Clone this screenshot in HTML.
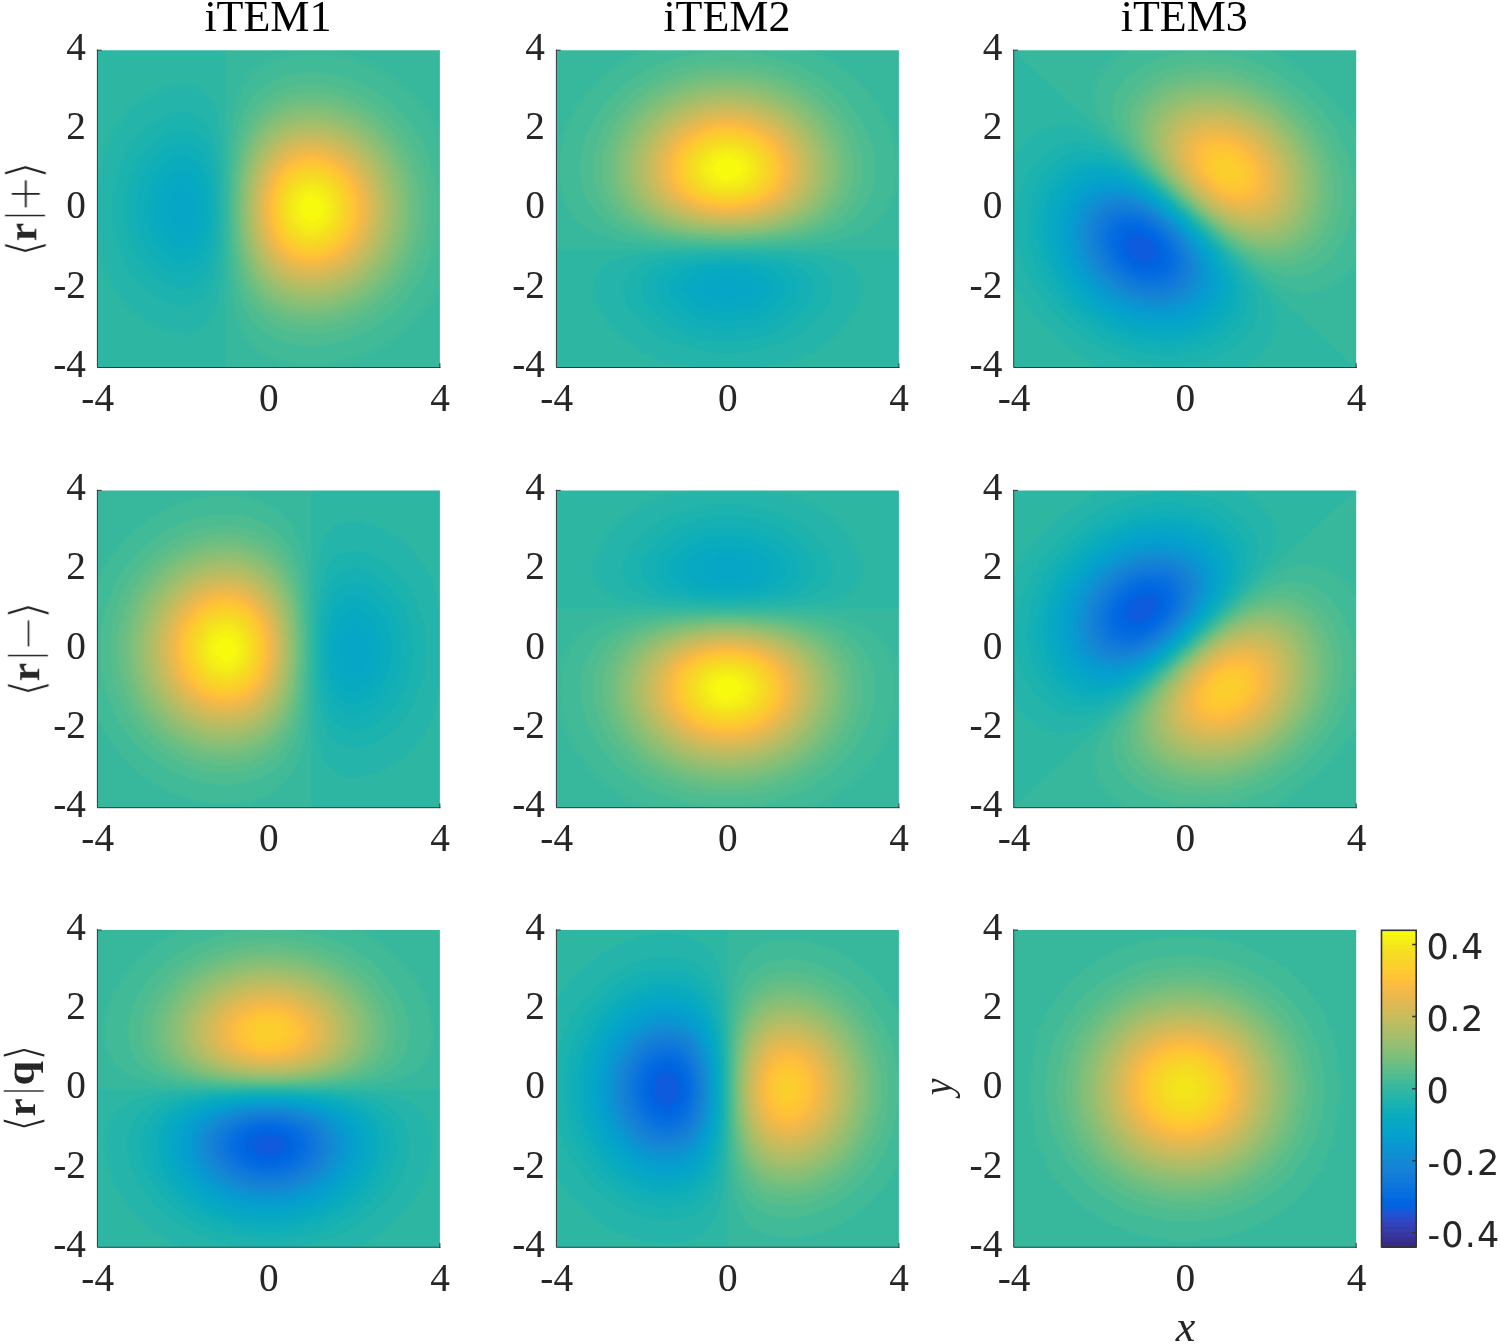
<!DOCTYPE html>
<html lang="en"><head><meta charset="utf-8"><title>iTEM modes</title>
<style>html,body{margin:0;padding:0;background:#fff}svg{display:block}</style></head>
<body><svg width="1500" height="1344" viewBox="0 0 1500 1344">
<defs><linearGradient id="ga" gradientUnits="userSpaceOnUse" x1="-6" y1="0" x2="6" y2="0"><stop offset="0" stop-color="#7e7e7e"/><stop offset=".125" stop-color="#7e7e7e"/><stop offset=".1302" stop-color="#7d7d7d"/><stop offset=".1458" stop-color="#7d7d7d"/><stop offset=".151" stop-color="#7c7c7c"/><stop offset=".1562" stop-color="#7c7c7c"/><stop offset=".1615" stop-color="#7b7b7b"/><stop offset=".1719" stop-color="#7b7b7b"/><stop offset=".1771" stop-color="#7a7a7a"/><stop offset=".1823" stop-color="#797979"/><stop offset=".1875" stop-color="#797979"/><stop offset=".1927" stop-color="#787878"/><stop offset=".1979" stop-color="#777777"/><stop offset=".2031" stop-color="#777777"/><stop offset=".2083" stop-color="#767676"/><stop offset=".2135" stop-color="#757575"/><stop offset=".2188" stop-color="#747474"/><stop offset=".224" stop-color="#737373"/><stop offset=".2292" stop-color="#727272"/><stop offset=".2344" stop-color="#717171"/><stop offset=".2396" stop-color="#707070"/><stop offset=".2448" stop-color="#6f6f6f"/><stop offset=".25" stop-color="#6e6e6e"/><stop offset=".2552" stop-color="#6d6d6d"/><stop offset=".2604" stop-color="#6c6c6c"/><stop offset=".2656" stop-color="#6b6b6b"/><stop offset=".2708" stop-color="#6a6a6a"/><stop offset=".276" stop-color="#696969"/><stop offset=".2812" stop-color="#686868"/><stop offset=".2865" stop-color="#676767"/><stop offset=".2917" stop-color="#666666"/><stop offset=".2969" stop-color="#656565"/><stop offset=".3021" stop-color="#646464"/><stop offset=".3073" stop-color="#636363"/><stop offset=".3125" stop-color="#636363"/><stop offset=".3177" stop-color="#626262"/><stop offset=".3229" stop-color="#626262"/><stop offset=".3281" stop-color="#616161"/><stop offset=".3385" stop-color="#616161"/><stop offset=".3438" stop-color="#626262"/><stop offset=".349" stop-color="#626262"/><stop offset=".3542" stop-color="#636363"/><stop offset=".3594" stop-color="#646464"/><stop offset=".3646" stop-color="#656565"/><stop offset=".3698" stop-color="#666666"/><stop offset=".375" stop-color="#686868"/><stop offset=".3802" stop-color="#6a6a6a"/><stop offset=".3854" stop-color="#6c6c6c"/><stop offset=".3906" stop-color="#6f6f6f"/><stop offset=".3958" stop-color="#727272"/><stop offset=".401" stop-color="#757575"/><stop offset=".4062" stop-color="#787878"/><stop offset=".4115" stop-color="#7c7c7c"/><stop offset=".4167" stop-color="#808080"/><stop offset=".4219" stop-color="#848484"/><stop offset=".4271" stop-color="#888888"/><stop offset=".4323" stop-color="#8d8d8d"/><stop offset=".4375" stop-color="#919191"/><stop offset=".4427" stop-color="#969696"/><stop offset=".4479" stop-color="#9b9b9b"/><stop offset=".4531" stop-color="#a1a1a1"/><stop offset=".4583" stop-color="#a6a6a6"/><stop offset=".4635" stop-color="#ababab"/><stop offset=".4688" stop-color="#b1b1b1"/><stop offset=".474" stop-color="#b6b6b6"/><stop offset=".4792" stop-color="#bcbcbc"/><stop offset=".4844" stop-color="#c1c1c1"/><stop offset=".4896" stop-color="#c7c7c7"/><stop offset=".4948" stop-color="#cccccc"/><stop offset=".5" stop-color="#d1d1d1"/><stop offset=".5052" stop-color="#d6d6d6"/><stop offset=".5104" stop-color="#dbdbdb"/><stop offset=".5156" stop-color="#e0e0e0"/><stop offset=".5208" stop-color="#e4e4e4"/><stop offset=".526" stop-color="#e8e8e8"/><stop offset=".5312" stop-color="#ececec"/><stop offset=".5365" stop-color="#f0f0f0"/><stop offset=".5417" stop-color="#f3f3f3"/><stop offset=".5469" stop-color="#f6f6f6"/><stop offset=".5521" stop-color="#f8f8f8"/><stop offset=".5573" stop-color="#fafafa"/><stop offset=".5625" stop-color="#fcfcfc"/><stop offset=".5677" stop-color="#fdfdfd"/><stop offset=".5729" stop-color="#fefefe"/><stop offset=".5781" stop-color="#ffffff"/><stop offset=".5885" stop-color="#ffffff"/><stop offset=".5938" stop-color="#fefefe"/><stop offset=".599" stop-color="#fdfdfd"/><stop offset=".6042" stop-color="#fcfcfc"/><stop offset=".6094" stop-color="#fbfbfb"/><stop offset=".6146" stop-color="#f9f9f9"/><stop offset=".6198" stop-color="#f7f7f7"/><stop offset=".625" stop-color="#f4f4f4"/><stop offset=".6302" stop-color="#f1f1f1"/><stop offset=".6354" stop-color="#efefef"/><stop offset=".6406" stop-color="#ebebeb"/><stop offset=".6458" stop-color="#e8e8e8"/><stop offset=".651" stop-color="#e5e5e5"/><stop offset=".6562" stop-color="#e1e1e1"/><stop offset=".6615" stop-color="#dedede"/><stop offset=".6667" stop-color="#dadada"/><stop offset=".6719" stop-color="#d6d6d6"/><stop offset=".6771" stop-color="#d2d2d2"/><stop offset=".6823" stop-color="#cecece"/><stop offset=".6875" stop-color="#cbcbcb"/><stop offset=".6927" stop-color="#c7c7c7"/><stop offset=".6979" stop-color="#c3c3c3"/><stop offset=".7031" stop-color="#bfbfbf"/><stop offset=".7083" stop-color="#bcbcbc"/><stop offset=".7135" stop-color="#b8b8b8"/><stop offset=".7188" stop-color="#b4b4b4"/><stop offset=".724" stop-color="#b1b1b1"/><stop offset=".7292" stop-color="#aeaeae"/><stop offset=".7344" stop-color="#ababab"/><stop offset=".7396" stop-color="#a8a8a8"/><stop offset=".7448" stop-color="#a5a5a5"/><stop offset=".75" stop-color="#a2a2a2"/><stop offset=".7552" stop-color="#9f9f9f"/><stop offset=".7604" stop-color="#9d9d9d"/><stop offset=".7656" stop-color="#9b9b9b"/><stop offset=".7708" stop-color="#989898"/><stop offset=".776" stop-color="#969696"/><stop offset=".7812" stop-color="#949494"/><stop offset=".7865" stop-color="#929292"/><stop offset=".7917" stop-color="#919191"/><stop offset=".7969" stop-color="#8f8f8f"/><stop offset=".8021" stop-color="#8e8e8e"/><stop offset=".8073" stop-color="#8c8c8c"/><stop offset=".8125" stop-color="#8b8b8b"/><stop offset=".8177" stop-color="#8a8a8a"/><stop offset=".8229" stop-color="#898989"/><stop offset=".8281" stop-color="#888888"/><stop offset=".8333" stop-color="#878787"/><stop offset=".8385" stop-color="#868686"/><stop offset=".8438" stop-color="#858585"/><stop offset=".849" stop-color="#858585"/><stop offset=".8542" stop-color="#848484"/><stop offset=".8594" stop-color="#848484"/><stop offset=".8646" stop-color="#838383"/><stop offset=".8698" stop-color="#838383"/><stop offset=".875" stop-color="#828282"/><stop offset=".8854" stop-color="#828282"/><stop offset=".8906" stop-color="#818181"/><stop offset="1" stop-color="#818181"/></linearGradient>
<linearGradient id="gb" gradientUnits="userSpaceOnUse" x1="-6" y1="0" x2="6" y2="0"><stop offset="0" stop-color="#7e7e7e"/><stop offset=".1042" stop-color="#7e7e7e"/><stop offset=".1094" stop-color="#7d7d7d"/><stop offset=".1198" stop-color="#7d7d7d"/><stop offset=".125" stop-color="#7c7c7c"/><stop offset=".1302" stop-color="#7c7c7c"/><stop offset=".1354" stop-color="#7b7b7b"/><stop offset=".1406" stop-color="#7b7b7b"/><stop offset=".1458" stop-color="#7a7a7a"/><stop offset=".151" stop-color="#797979"/><stop offset=".1562" stop-color="#797979"/><stop offset=".1615" stop-color="#787878"/><stop offset=".1667" stop-color="#777777"/><stop offset=".1719" stop-color="#767676"/><stop offset=".1771" stop-color="#757575"/><stop offset=".1823" stop-color="#747474"/><stop offset=".1875" stop-color="#737373"/><stop offset=".1927" stop-color="#717171"/><stop offset=".1979" stop-color="#707070"/><stop offset=".2031" stop-color="#6e6e6e"/><stop offset=".2083" stop-color="#6d6d6d"/><stop offset=".2135" stop-color="#6b6b6b"/><stop offset=".2188" stop-color="#696969"/><stop offset=".224" stop-color="#676767"/><stop offset=".2292" stop-color="#656565"/><stop offset=".2344" stop-color="#626262"/><stop offset=".2396" stop-color="#606060"/><stop offset=".2448" stop-color="#5e5e5e"/><stop offset=".25" stop-color="#5b5b5b"/><stop offset=".2552" stop-color="#585858"/><stop offset=".2604" stop-color="#555555"/><stop offset=".2656" stop-color="#525252"/><stop offset=".2708" stop-color="#4f4f4f"/><stop offset=".276" stop-color="#4c4c4c"/><stop offset=".2812" stop-color="#494949"/><stop offset=".2865" stop-color="#464646"/><stop offset=".2917" stop-color="#434343"/><stop offset=".2969" stop-color="#404040"/><stop offset=".3021" stop-color="#3c3c3c"/><stop offset=".3073" stop-color="#393939"/><stop offset=".3125" stop-color="#363636"/><stop offset=".3177" stop-color="#333333"/><stop offset=".3229" stop-color="#303030"/><stop offset=".3281" stop-color="#2d2d2d"/><stop offset=".3333" stop-color="#2a2a2a"/><stop offset=".3385" stop-color="#282828"/><stop offset=".3438" stop-color="#252525"/><stop offset=".349" stop-color="#232323"/><stop offset=".3542" stop-color="#212121"/><stop offset=".3594" stop-color="#202020"/><stop offset=".3646" stop-color="#1e1e1e"/><stop offset=".3698" stop-color="#1d1d1d"/><stop offset=".375" stop-color="#1d1d1d"/><stop offset=".3802" stop-color="#1c1c1c"/><stop offset=".3854" stop-color="#1c1c1c"/><stop offset=".3906" stop-color="#1d1d1d"/><stop offset=".3958" stop-color="#1e1e1e"/><stop offset=".401" stop-color="#1f1f1f"/><stop offset=".4062" stop-color="#212121"/><stop offset=".4115" stop-color="#232323"/><stop offset=".4167" stop-color="#252525"/><stop offset=".4219" stop-color="#282828"/><stop offset=".4271" stop-color="#2c2c2c"/><stop offset=".4323" stop-color="#303030"/><stop offset=".4375" stop-color="#343434"/><stop offset=".4427" stop-color="#393939"/><stop offset=".4479" stop-color="#3e3e3e"/><stop offset=".4531" stop-color="#434343"/><stop offset=".4583" stop-color="#494949"/><stop offset=".4635" stop-color="#4f4f4f"/><stop offset=".4688" stop-color="#565656"/><stop offset=".474" stop-color="#5c5c5c"/><stop offset=".4792" stop-color="#636363"/><stop offset=".4844" stop-color="#6a6a6a"/><stop offset=".4896" stop-color="#717171"/><stop offset=".4948" stop-color="#787878"/><stop offset=".5" stop-color="#808080"/><stop offset=".5052" stop-color="#878787"/><stop offset=".5104" stop-color="#8e8e8e"/><stop offset=".5156" stop-color="#959595"/><stop offset=".5208" stop-color="#9c9c9c"/><stop offset=".526" stop-color="#a3a3a3"/><stop offset=".5312" stop-color="#a9a9a9"/><stop offset=".5365" stop-color="#b0b0b0"/><stop offset=".5417" stop-color="#b6b6b6"/><stop offset=".5469" stop-color="#bcbcbc"/><stop offset=".5521" stop-color="#c1c1c1"/><stop offset=".5573" stop-color="#c6c6c6"/><stop offset=".5625" stop-color="#cbcbcb"/><stop offset=".5677" stop-color="#cfcfcf"/><stop offset=".5729" stop-color="#d3d3d3"/><stop offset=".5781" stop-color="#d7d7d7"/><stop offset=".5833" stop-color="#dadada"/><stop offset=".5885" stop-color="#dcdcdc"/><stop offset=".5938" stop-color="#dedede"/><stop offset=".599" stop-color="#e0e0e0"/><stop offset=".6042" stop-color="#e1e1e1"/><stop offset=".6094" stop-color="#e2e2e2"/><stop offset=".6146" stop-color="#e3e3e3"/><stop offset=".6198" stop-color="#e3e3e3"/><stop offset=".625" stop-color="#e2e2e2"/><stop offset=".6302" stop-color="#e2e2e2"/><stop offset=".6354" stop-color="#e1e1e1"/><stop offset=".6406" stop-color="#dfdfdf"/><stop offset=".6458" stop-color="#dedede"/><stop offset=".651" stop-color="#dcdcdc"/><stop offset=".6562" stop-color="#dadada"/><stop offset=".6615" stop-color="#d7d7d7"/><stop offset=".6667" stop-color="#d5d5d5"/><stop offset=".6719" stop-color="#d2d2d2"/><stop offset=".6771" stop-color="#cfcfcf"/><stop offset=".6823" stop-color="#cccccc"/><stop offset=".6875" stop-color="#c9c9c9"/><stop offset=".6927" stop-color="#c6c6c6"/><stop offset=".6979" stop-color="#c3c3c3"/><stop offset=".7031" stop-color="#bfbfbf"/><stop offset=".7083" stop-color="#bcbcbc"/><stop offset=".7135" stop-color="#b9b9b9"/><stop offset=".7188" stop-color="#b6b6b6"/><stop offset=".724" stop-color="#b3b3b3"/><stop offset=".7292" stop-color="#b0b0b0"/><stop offset=".7344" stop-color="#adadad"/><stop offset=".7396" stop-color="#aaaaaa"/><stop offset=".7448" stop-color="#a7a7a7"/><stop offset=".75" stop-color="#a4a4a4"/><stop offset=".7552" stop-color="#a1a1a1"/><stop offset=".7604" stop-color="#9f9f9f"/><stop offset=".7656" stop-color="#9d9d9d"/><stop offset=".7708" stop-color="#9a9a9a"/><stop offset=".776" stop-color="#989898"/><stop offset=".7812" stop-color="#969696"/><stop offset=".7865" stop-color="#949494"/><stop offset=".7917" stop-color="#929292"/><stop offset=".7969" stop-color="#919191"/><stop offset=".8021" stop-color="#8f8f8f"/><stop offset=".8073" stop-color="#8e8e8e"/><stop offset=".8125" stop-color="#8c8c8c"/><stop offset=".8177" stop-color="#8b8b8b"/><stop offset=".8229" stop-color="#8a8a8a"/><stop offset=".8281" stop-color="#898989"/><stop offset=".8333" stop-color="#888888"/><stop offset=".8385" stop-color="#878787"/><stop offset=".8438" stop-color="#868686"/><stop offset=".849" stop-color="#868686"/><stop offset=".8542" stop-color="#858585"/><stop offset=".8594" stop-color="#848484"/><stop offset=".8646" stop-color="#848484"/><stop offset=".8698" stop-color="#838383"/><stop offset=".875" stop-color="#838383"/><stop offset=".8802" stop-color="#828282"/><stop offset=".8906" stop-color="#828282"/><stop offset=".8958" stop-color="#818181"/><stop offset="1" stop-color="#818181"/></linearGradient>
<linearGradient id="gc" gradientUnits="userSpaceOnUse" x1="-6" y1="0" x2="6" y2="0"><stop offset="0" stop-color="#818181"/><stop offset=".1615" stop-color="#818181"/><stop offset=".1667" stop-color="#828282"/><stop offset=".1771" stop-color="#828282"/><stop offset=".1823" stop-color="#838383"/><stop offset=".1927" stop-color="#838383"/><stop offset=".1979" stop-color="#848484"/><stop offset=".2031" stop-color="#848484"/><stop offset=".2083" stop-color="#858585"/><stop offset=".2135" stop-color="#868686"/><stop offset=".2188" stop-color="#868686"/><stop offset=".224" stop-color="#878787"/><stop offset=".2292" stop-color="#888888"/><stop offset=".2344" stop-color="#898989"/><stop offset=".2396" stop-color="#8a8a8a"/><stop offset=".2448" stop-color="#8b8b8b"/><stop offset=".25" stop-color="#8c8c8c"/><stop offset=".2552" stop-color="#8d8d8d"/><stop offset=".2604" stop-color="#8e8e8e"/><stop offset=".2656" stop-color="#909090"/><stop offset=".2708" stop-color="#919191"/><stop offset=".276" stop-color="#939393"/><stop offset=".2812" stop-color="#949494"/><stop offset=".2865" stop-color="#969696"/><stop offset=".2917" stop-color="#989898"/><stop offset=".2969" stop-color="#9a9a9a"/><stop offset=".3021" stop-color="#9c9c9c"/><stop offset=".3073" stop-color="#9e9e9e"/><stop offset=".3125" stop-color="#a0a0a0"/><stop offset=".3177" stop-color="#a2a2a2"/><stop offset=".3229" stop-color="#a5a5a5"/><stop offset=".3281" stop-color="#a7a7a7"/><stop offset=".3333" stop-color="#aaaaaa"/><stop offset=".3385" stop-color="#adadad"/><stop offset=".3438" stop-color="#b0b0b0"/><stop offset=".349" stop-color="#b2b2b2"/><stop offset=".3542" stop-color="#b5b5b5"/><stop offset=".3594" stop-color="#b8b8b8"/><stop offset=".3646" stop-color="#bbbbbb"/><stop offset=".3698" stop-color="#bebebe"/><stop offset=".375" stop-color="#c1c1c1"/><stop offset=".3802" stop-color="#c5c5c5"/><stop offset=".3854" stop-color="#c8c8c8"/><stop offset=".3906" stop-color="#cbcbcb"/><stop offset=".3958" stop-color="#cecece"/><stop offset=".401" stop-color="#d1d1d1"/><stop offset=".4062" stop-color="#d4d4d4"/><stop offset=".4115" stop-color="#d7d7d7"/><stop offset=".4167" stop-color="#dadada"/><stop offset=".4219" stop-color="#dcdcdc"/><stop offset=".4271" stop-color="#dfdfdf"/><stop offset=".4323" stop-color="#e2e2e2"/><stop offset=".4375" stop-color="#e4e4e4"/><stop offset=".4427" stop-color="#e6e6e6"/><stop offset=".4479" stop-color="#e8e8e8"/><stop offset=".4531" stop-color="#eaeaea"/><stop offset=".4583" stop-color="#ececec"/><stop offset=".4635" stop-color="#eeeeee"/><stop offset=".4688" stop-color="#efefef"/><stop offset=".474" stop-color="#f0f0f0"/><stop offset=".4792" stop-color="#f1f1f1"/><stop offset=".4844" stop-color="#f2f2f2"/><stop offset=".4896" stop-color="#f3f3f3"/><stop offset=".5104" stop-color="#f3f3f3"/><stop offset=".5156" stop-color="#f2f2f2"/><stop offset=".5208" stop-color="#f1f1f1"/><stop offset=".526" stop-color="#f0f0f0"/><stop offset=".5312" stop-color="#efefef"/><stop offset=".5365" stop-color="#eeeeee"/><stop offset=".5417" stop-color="#ececec"/><stop offset=".5469" stop-color="#eaeaea"/><stop offset=".5521" stop-color="#e8e8e8"/><stop offset=".5573" stop-color="#e6e6e6"/><stop offset=".5625" stop-color="#e4e4e4"/><stop offset=".5677" stop-color="#e2e2e2"/><stop offset=".5729" stop-color="#dfdfdf"/><stop offset=".5781" stop-color="#dcdcdc"/><stop offset=".5833" stop-color="#dadada"/><stop offset=".5885" stop-color="#d7d7d7"/><stop offset=".5938" stop-color="#d4d4d4"/><stop offset=".599" stop-color="#d1d1d1"/><stop offset=".6042" stop-color="#cecece"/><stop offset=".6094" stop-color="#cbcbcb"/><stop offset=".6146" stop-color="#c8c8c8"/><stop offset=".6198" stop-color="#c5c5c5"/><stop offset=".625" stop-color="#c1c1c1"/><stop offset=".6302" stop-color="#bebebe"/><stop offset=".6354" stop-color="#bbbbbb"/><stop offset=".6406" stop-color="#b8b8b8"/><stop offset=".6458" stop-color="#b5b5b5"/><stop offset=".651" stop-color="#b2b2b2"/><stop offset=".6562" stop-color="#b0b0b0"/><stop offset=".6615" stop-color="#adadad"/><stop offset=".6667" stop-color="#aaaaaa"/><stop offset=".6719" stop-color="#a7a7a7"/><stop offset=".6771" stop-color="#a5a5a5"/><stop offset=".6823" stop-color="#a2a2a2"/><stop offset=".6875" stop-color="#a0a0a0"/><stop offset=".6927" stop-color="#9e9e9e"/><stop offset=".6979" stop-color="#9c9c9c"/><stop offset=".7031" stop-color="#9a9a9a"/><stop offset=".7083" stop-color="#989898"/><stop offset=".7135" stop-color="#969696"/><stop offset=".7188" stop-color="#949494"/><stop offset=".724" stop-color="#939393"/><stop offset=".7292" stop-color="#919191"/><stop offset=".7344" stop-color="#909090"/><stop offset=".7396" stop-color="#8e8e8e"/><stop offset=".7448" stop-color="#8d8d8d"/><stop offset=".75" stop-color="#8c8c8c"/><stop offset=".7552" stop-color="#8b8b8b"/><stop offset=".7604" stop-color="#8a8a8a"/><stop offset=".7656" stop-color="#898989"/><stop offset=".7708" stop-color="#888888"/><stop offset=".776" stop-color="#878787"/><stop offset=".7812" stop-color="#868686"/><stop offset=".7865" stop-color="#868686"/><stop offset=".7917" stop-color="#858585"/><stop offset=".7969" stop-color="#848484"/><stop offset=".8021" stop-color="#848484"/><stop offset=".8073" stop-color="#838383"/><stop offset=".8177" stop-color="#838383"/><stop offset=".8229" stop-color="#828282"/><stop offset=".8333" stop-color="#828282"/><stop offset=".8385" stop-color="#818181"/><stop offset="1" stop-color="#818181"/></linearGradient>
<linearGradient id="cn" gradientUnits="userSpaceOnUse" x1="0" y1="-6" x2="0" y2="6"><stop offset="0" stop-color="#7e7e7e" stop-opacity=".9999"/><stop offset=".0052" stop-color="#7e7e7e" stop-opacity=".9999"/><stop offset=".0104" stop-color="#7e7e7e" stop-opacity=".9998"/><stop offset=".0156" stop-color="#7e7e7e" stop-opacity=".9998"/><stop offset=".0208" stop-color="#7e7e7e" stop-opacity=".9997"/><stop offset=".026" stop-color="#7e7e7e" stop-opacity=".9997"/><stop offset=".0312" stop-color="#7e7e7e" stop-opacity=".9996"/><stop offset=".0365" stop-color="#7e7e7e" stop-opacity=".9996"/><stop offset=".0417" stop-color="#7e7e7e" stop-opacity=".9995"/><stop offset=".0469" stop-color="#7e7e7e" stop-opacity=".9994"/><stop offset=".0521" stop-color="#7e7e7e" stop-opacity=".9993"/><stop offset=".0573" stop-color="#7e7e7e" stop-opacity=".9991"/><stop offset=".0625" stop-color="#7e7e7e" stop-opacity=".999"/><stop offset=".0677" stop-color="#7e7e7e" stop-opacity=".9988"/><stop offset=".0729" stop-color="#7e7e7e" stop-opacity=".9986"/><stop offset=".0781" stop-color="#7e7e7e" stop-opacity=".9984"/><stop offset=".0833" stop-color="#7e7e7e" stop-opacity=".9981"/><stop offset=".0885" stop-color="#7e7e7e" stop-opacity=".9977"/><stop offset=".0938" stop-color="#7e7e7e" stop-opacity=".9974"/><stop offset=".099" stop-color="#7e7e7e" stop-opacity=".9969"/><stop offset=".1042" stop-color="#7e7e7e" stop-opacity=".9964"/><stop offset=".1094" stop-color="#7e7e7e" stop-opacity=".9959"/><stop offset=".1146" stop-color="#7e7e7e" stop-opacity=".9952"/><stop offset=".1198" stop-color="#7e7e7e" stop-opacity=".9945"/><stop offset=".125" stop-color="#7e7e7e" stop-opacity=".9937"/><stop offset=".1302" stop-color="#7e7e7e" stop-opacity=".9927"/><stop offset=".1354" stop-color="#7e7e7e" stop-opacity=".9916"/><stop offset=".1406" stop-color="#7e7e7e" stop-opacity=".9904"/><stop offset=".1458" stop-color="#7e7e7e" stop-opacity=".9891"/><stop offset=".151" stop-color="#7e7e7e" stop-opacity=".9875"/><stop offset=".1562" stop-color="#7e7e7e" stop-opacity=".9858"/><stop offset=".1615" stop-color="#7e7e7e" stop-opacity=".9839"/><stop offset=".1667" stop-color="#7e7e7e" stop-opacity=".9817"/><stop offset=".1719" stop-color="#7e7e7e" stop-opacity=".9793"/><stop offset=".1771" stop-color="#7e7e7e" stop-opacity=".9766"/><stop offset=".1823" stop-color="#7e7e7e" stop-opacity=".9736"/><stop offset=".1875" stop-color="#7e7e7e" stop-opacity=".9703"/><stop offset=".1927" stop-color="#7e7e7e" stop-opacity=".9666"/><stop offset=".1979" stop-color="#7e7e7e" stop-opacity=".9626"/><stop offset=".2031" stop-color="#7e7e7e" stop-opacity=".9581"/><stop offset=".2083" stop-color="#7e7e7e" stop-opacity=".9532"/><stop offset=".2135" stop-color="#7e7e7e" stop-opacity=".9479"/><stop offset=".2188" stop-color="#7e7e7e" stop-opacity=".942"/><stop offset=".224" stop-color="#7e7e7e" stop-opacity=".9356"/><stop offset=".2292" stop-color="#7e7e7e" stop-opacity=".9287"/><stop offset=".2344" stop-color="#7e7e7e" stop-opacity=".9211"/><stop offset=".2396" stop-color="#7e7e7e" stop-opacity=".913"/><stop offset=".2448" stop-color="#7e7e7e" stop-opacity=".9041"/><stop offset=".25" stop-color="#7e7e7e" stop-opacity=".8946"/><stop offset=".2552" stop-color="#7e7e7e" stop-opacity=".8844"/><stop offset=".2604" stop-color="#7e7e7e" stop-opacity=".8734"/><stop offset=".2656" stop-color="#7e7e7e" stop-opacity=".8616"/><stop offset=".2708" stop-color="#7e7e7e" stop-opacity=".849"/><stop offset=".276" stop-color="#7e7e7e" stop-opacity=".8356"/><stop offset=".2812" stop-color="#7e7e7e" stop-opacity=".8214"/><stop offset=".2865" stop-color="#7e7e7e" stop-opacity=".8063"/><stop offset=".2917" stop-color="#7e7e7e" stop-opacity=".7904"/><stop offset=".2969" stop-color="#7e7e7e" stop-opacity=".7736"/><stop offset=".3021" stop-color="#7e7e7e" stop-opacity=".7559"/><stop offset=".3073" stop-color="#7e7e7e" stop-opacity=".7373"/><stop offset=".3125" stop-color="#7e7e7e" stop-opacity=".7179"/><stop offset=".3177" stop-color="#7e7e7e" stop-opacity=".6977"/><stop offset=".3229" stop-color="#7e7e7e" stop-opacity=".6766"/><stop offset=".3281" stop-color="#7e7e7e" stop-opacity=".6547"/><stop offset=".3333" stop-color="#7e7e7e" stop-opacity=".6321"/><stop offset=".3385" stop-color="#7e7e7e" stop-opacity=".6088"/><stop offset=".3438" stop-color="#7e7e7e" stop-opacity=".5848"/><stop offset=".349" stop-color="#7e7e7e" stop-opacity=".5601"/><stop offset=".3542" stop-color="#7e7e7e" stop-opacity=".535"/><stop offset=".3594" stop-color="#7e7e7e" stop-opacity=".5093"/><stop offset=".3646" stop-color="#7e7e7e" stop-opacity=".4832"/><stop offset=".3698" stop-color="#7e7e7e" stop-opacity=".4568"/><stop offset=".375" stop-color="#7e7e7e" stop-opacity=".4302"/><stop offset=".3802" stop-color="#7e7e7e" stop-opacity=".4035"/><stop offset=".3854" stop-color="#7e7e7e" stop-opacity=".3767"/><stop offset=".3906" stop-color="#7e7e7e" stop-opacity=".3499"/><stop offset=".3958" stop-color="#7e7e7e" stop-opacity=".3234"/><stop offset=".401" stop-color="#7e7e7e" stop-opacity=".2971"/><stop offset=".4062" stop-color="#7e7e7e" stop-opacity=".2712"/><stop offset=".4115" stop-color="#7e7e7e" stop-opacity=".2459"/><stop offset=".4167" stop-color="#7e7e7e" stop-opacity=".2212"/><stop offset=".4219" stop-color="#7e7e7e" stop-opacity=".1973"/><stop offset=".4271" stop-color="#7e7e7e" stop-opacity=".1742"/><stop offset=".4323" stop-color="#7e7e7e" stop-opacity=".1521"/><stop offset=".4375" stop-color="#7e7e7e" stop-opacity=".1312"/><stop offset=".4427" stop-color="#7e7e7e" stop-opacity=".1114"/><stop offset=".4479" stop-color="#7e7e7e" stop-opacity=".093"/><stop offset=".4531" stop-color="#7e7e7e" stop-opacity=".0761"/><stop offset=".4583" stop-color="#7e7e7e" stop-opacity=".0606"/><stop offset=".4635" stop-color="#7e7e7e" stop-opacity=".0467"/><stop offset=".4688" stop-color="#7e7e7e" stop-opacity=".0345"/><stop offset=".474" stop-color="#7e7e7e" stop-opacity=".0241"/><stop offset=".4792" stop-color="#7e7e7e" stop-opacity=".0155"/><stop offset=".4844" stop-color="#7e7e7e" stop-opacity=".0088"/><stop offset=".4896" stop-color="#7e7e7e" stop-opacity=".0039"/><stop offset=".4948" stop-color="#7e7e7e" stop-opacity=".001"/><stop offset=".5" stop-color="#7e7e7e" stop-opacity="0"/><stop offset=".5052" stop-color="#7e7e7e" stop-opacity=".001"/><stop offset=".5104" stop-color="#7e7e7e" stop-opacity=".0039"/><stop offset=".5156" stop-color="#7e7e7e" stop-opacity=".0088"/><stop offset=".5208" stop-color="#7e7e7e" stop-opacity=".0155"/><stop offset=".526" stop-color="#7e7e7e" stop-opacity=".0241"/><stop offset=".5312" stop-color="#7e7e7e" stop-opacity=".0345"/><stop offset=".5365" stop-color="#7e7e7e" stop-opacity=".0467"/><stop offset=".5417" stop-color="#7e7e7e" stop-opacity=".0606"/><stop offset=".5469" stop-color="#7e7e7e" stop-opacity=".0761"/><stop offset=".5521" stop-color="#7e7e7e" stop-opacity=".093"/><stop offset=".5573" stop-color="#7e7e7e" stop-opacity=".1114"/><stop offset=".5625" stop-color="#7e7e7e" stop-opacity=".1312"/><stop offset=".5677" stop-color="#7e7e7e" stop-opacity=".1521"/><stop offset=".5729" stop-color="#7e7e7e" stop-opacity=".1742"/><stop offset=".5781" stop-color="#7e7e7e" stop-opacity=".1973"/><stop offset=".5833" stop-color="#7e7e7e" stop-opacity=".2212"/><stop offset=".5885" stop-color="#7e7e7e" stop-opacity=".2459"/><stop offset=".5938" stop-color="#7e7e7e" stop-opacity=".2712"/><stop offset=".599" stop-color="#7e7e7e" stop-opacity=".2971"/><stop offset=".6042" stop-color="#7e7e7e" stop-opacity=".3234"/><stop offset=".6094" stop-color="#7e7e7e" stop-opacity=".3499"/><stop offset=".6146" stop-color="#7e7e7e" stop-opacity=".3767"/><stop offset=".6198" stop-color="#7e7e7e" stop-opacity=".4035"/><stop offset=".625" stop-color="#7e7e7e" stop-opacity=".4302"/><stop offset=".6302" stop-color="#7e7e7e" stop-opacity=".4568"/><stop offset=".6354" stop-color="#7e7e7e" stop-opacity=".4832"/><stop offset=".6406" stop-color="#7e7e7e" stop-opacity=".5093"/><stop offset=".6458" stop-color="#7e7e7e" stop-opacity=".535"/><stop offset=".651" stop-color="#7e7e7e" stop-opacity=".5601"/><stop offset=".6562" stop-color="#7e7e7e" stop-opacity=".5848"/><stop offset=".6615" stop-color="#7e7e7e" stop-opacity=".6088"/><stop offset=".6667" stop-color="#7e7e7e" stop-opacity=".6321"/><stop offset=".6719" stop-color="#7e7e7e" stop-opacity=".6547"/><stop offset=".6771" stop-color="#7e7e7e" stop-opacity=".6766"/><stop offset=".6823" stop-color="#7e7e7e" stop-opacity=".6977"/><stop offset=".6875" stop-color="#7e7e7e" stop-opacity=".7179"/><stop offset=".6927" stop-color="#7e7e7e" stop-opacity=".7373"/><stop offset=".6979" stop-color="#7e7e7e" stop-opacity=".7559"/><stop offset=".7031" stop-color="#7e7e7e" stop-opacity=".7736"/><stop offset=".7083" stop-color="#7e7e7e" stop-opacity=".7904"/><stop offset=".7135" stop-color="#7e7e7e" stop-opacity=".8063"/><stop offset=".7188" stop-color="#7e7e7e" stop-opacity=".8214"/><stop offset=".724" stop-color="#7e7e7e" stop-opacity=".8356"/><stop offset=".7292" stop-color="#7e7e7e" stop-opacity=".849"/><stop offset=".7344" stop-color="#7e7e7e" stop-opacity=".8616"/><stop offset=".7396" stop-color="#7e7e7e" stop-opacity=".8734"/><stop offset=".7448" stop-color="#7e7e7e" stop-opacity=".8844"/><stop offset=".75" stop-color="#7e7e7e" stop-opacity=".8946"/><stop offset=".7552" stop-color="#7e7e7e" stop-opacity=".9041"/><stop offset=".7604" stop-color="#7e7e7e" stop-opacity=".913"/><stop offset=".7656" stop-color="#7e7e7e" stop-opacity=".9211"/><stop offset=".7708" stop-color="#7e7e7e" stop-opacity=".9287"/><stop offset=".776" stop-color="#7e7e7e" stop-opacity=".9356"/><stop offset=".7812" stop-color="#7e7e7e" stop-opacity=".942"/><stop offset=".7865" stop-color="#7e7e7e" stop-opacity=".9479"/><stop offset=".7917" stop-color="#7e7e7e" stop-opacity=".9532"/><stop offset=".7969" stop-color="#7e7e7e" stop-opacity=".9581"/><stop offset=".8021" stop-color="#7e7e7e" stop-opacity=".9626"/><stop offset=".8073" stop-color="#7e7e7e" stop-opacity=".9666"/><stop offset=".8125" stop-color="#7e7e7e" stop-opacity=".9703"/><stop offset=".8177" stop-color="#7e7e7e" stop-opacity=".9736"/><stop offset=".8229" stop-color="#7e7e7e" stop-opacity=".9766"/><stop offset=".8281" stop-color="#7e7e7e" stop-opacity=".9793"/><stop offset=".8333" stop-color="#7e7e7e" stop-opacity=".9817"/><stop offset=".8385" stop-color="#7e7e7e" stop-opacity=".9839"/><stop offset=".8438" stop-color="#7e7e7e" stop-opacity=".9858"/><stop offset=".849" stop-color="#7e7e7e" stop-opacity=".9875"/><stop offset=".8542" stop-color="#7e7e7e" stop-opacity=".9891"/><stop offset=".8594" stop-color="#7e7e7e" stop-opacity=".9904"/><stop offset=".8646" stop-color="#7e7e7e" stop-opacity=".9916"/><stop offset=".8698" stop-color="#7e7e7e" stop-opacity=".9927"/><stop offset=".875" stop-color="#7e7e7e" stop-opacity=".9937"/><stop offset=".8802" stop-color="#7e7e7e" stop-opacity=".9945"/><stop offset=".8854" stop-color="#7e7e7e" stop-opacity=".9952"/><stop offset=".8906" stop-color="#7e7e7e" stop-opacity=".9959"/><stop offset=".8958" stop-color="#7e7e7e" stop-opacity=".9964"/><stop offset=".901" stop-color="#7e7e7e" stop-opacity=".9969"/><stop offset=".9062" stop-color="#7e7e7e" stop-opacity=".9974"/><stop offset=".9115" stop-color="#7e7e7e" stop-opacity=".9977"/><stop offset=".9167" stop-color="#7e7e7e" stop-opacity=".9981"/><stop offset=".9219" stop-color="#7e7e7e" stop-opacity=".9984"/><stop offset=".9271" stop-color="#7e7e7e" stop-opacity=".9986"/><stop offset=".9323" stop-color="#7e7e7e" stop-opacity=".9988"/><stop offset=".9375" stop-color="#7e7e7e" stop-opacity=".999"/><stop offset=".9427" stop-color="#7e7e7e" stop-opacity=".9991"/><stop offset=".9479" stop-color="#7e7e7e" stop-opacity=".9993"/><stop offset=".9531" stop-color="#7e7e7e" stop-opacity=".9994"/><stop offset=".9583" stop-color="#7e7e7e" stop-opacity=".9995"/><stop offset=".9635" stop-color="#7e7e7e" stop-opacity=".9996"/><stop offset=".9688" stop-color="#7e7e7e" stop-opacity=".9996"/><stop offset=".974" stop-color="#7e7e7e" stop-opacity=".9997"/><stop offset=".9792" stop-color="#7e7e7e" stop-opacity=".9997"/><stop offset=".9844" stop-color="#7e7e7e" stop-opacity=".9998"/><stop offset=".9896" stop-color="#7e7e7e" stop-opacity=".9998"/><stop offset=".9948" stop-color="#7e7e7e" stop-opacity=".9999"/><stop offset="1" stop-color="#7e7e7e" stop-opacity=".9999"/></linearGradient>
<linearGradient id="cp" gradientUnits="userSpaceOnUse" x1="0" y1="-6" x2="0" y2="6"><stop offset="0" stop-color="#818181" stop-opacity=".9999"/><stop offset=".0052" stop-color="#818181" stop-opacity=".9999"/><stop offset=".0104" stop-color="#818181" stop-opacity=".9998"/><stop offset=".0156" stop-color="#818181" stop-opacity=".9998"/><stop offset=".0208" stop-color="#818181" stop-opacity=".9997"/><stop offset=".026" stop-color="#818181" stop-opacity=".9997"/><stop offset=".0312" stop-color="#818181" stop-opacity=".9996"/><stop offset=".0365" stop-color="#818181" stop-opacity=".9996"/><stop offset=".0417" stop-color="#818181" stop-opacity=".9995"/><stop offset=".0469" stop-color="#818181" stop-opacity=".9994"/><stop offset=".0521" stop-color="#818181" stop-opacity=".9993"/><stop offset=".0573" stop-color="#818181" stop-opacity=".9991"/><stop offset=".0625" stop-color="#818181" stop-opacity=".999"/><stop offset=".0677" stop-color="#818181" stop-opacity=".9988"/><stop offset=".0729" stop-color="#818181" stop-opacity=".9986"/><stop offset=".0781" stop-color="#818181" stop-opacity=".9984"/><stop offset=".0833" stop-color="#818181" stop-opacity=".9981"/><stop offset=".0885" stop-color="#818181" stop-opacity=".9977"/><stop offset=".0938" stop-color="#818181" stop-opacity=".9974"/><stop offset=".099" stop-color="#818181" stop-opacity=".9969"/><stop offset=".1042" stop-color="#818181" stop-opacity=".9964"/><stop offset=".1094" stop-color="#818181" stop-opacity=".9959"/><stop offset=".1146" stop-color="#818181" stop-opacity=".9952"/><stop offset=".1198" stop-color="#818181" stop-opacity=".9945"/><stop offset=".125" stop-color="#818181" stop-opacity=".9937"/><stop offset=".1302" stop-color="#818181" stop-opacity=".9927"/><stop offset=".1354" stop-color="#818181" stop-opacity=".9916"/><stop offset=".1406" stop-color="#818181" stop-opacity=".9904"/><stop offset=".1458" stop-color="#818181" stop-opacity=".9891"/><stop offset=".151" stop-color="#818181" stop-opacity=".9875"/><stop offset=".1562" stop-color="#818181" stop-opacity=".9858"/><stop offset=".1615" stop-color="#818181" stop-opacity=".9839"/><stop offset=".1667" stop-color="#818181" stop-opacity=".9817"/><stop offset=".1719" stop-color="#818181" stop-opacity=".9793"/><stop offset=".1771" stop-color="#818181" stop-opacity=".9766"/><stop offset=".1823" stop-color="#818181" stop-opacity=".9736"/><stop offset=".1875" stop-color="#818181" stop-opacity=".9703"/><stop offset=".1927" stop-color="#818181" stop-opacity=".9666"/><stop offset=".1979" stop-color="#818181" stop-opacity=".9626"/><stop offset=".2031" stop-color="#818181" stop-opacity=".9581"/><stop offset=".2083" stop-color="#818181" stop-opacity=".9532"/><stop offset=".2135" stop-color="#818181" stop-opacity=".9479"/><stop offset=".2188" stop-color="#818181" stop-opacity=".942"/><stop offset=".224" stop-color="#818181" stop-opacity=".9356"/><stop offset=".2292" stop-color="#818181" stop-opacity=".9287"/><stop offset=".2344" stop-color="#818181" stop-opacity=".9211"/><stop offset=".2396" stop-color="#818181" stop-opacity=".913"/><stop offset=".2448" stop-color="#818181" stop-opacity=".9041"/><stop offset=".25" stop-color="#818181" stop-opacity=".8946"/><stop offset=".2552" stop-color="#818181" stop-opacity=".8844"/><stop offset=".2604" stop-color="#818181" stop-opacity=".8734"/><stop offset=".2656" stop-color="#818181" stop-opacity=".8616"/><stop offset=".2708" stop-color="#818181" stop-opacity=".849"/><stop offset=".276" stop-color="#818181" stop-opacity=".8356"/><stop offset=".2812" stop-color="#818181" stop-opacity=".8214"/><stop offset=".2865" stop-color="#818181" stop-opacity=".8063"/><stop offset=".2917" stop-color="#818181" stop-opacity=".7904"/><stop offset=".2969" stop-color="#818181" stop-opacity=".7736"/><stop offset=".3021" stop-color="#818181" stop-opacity=".7559"/><stop offset=".3073" stop-color="#818181" stop-opacity=".7373"/><stop offset=".3125" stop-color="#818181" stop-opacity=".7179"/><stop offset=".3177" stop-color="#818181" stop-opacity=".6977"/><stop offset=".3229" stop-color="#818181" stop-opacity=".6766"/><stop offset=".3281" stop-color="#818181" stop-opacity=".6547"/><stop offset=".3333" stop-color="#818181" stop-opacity=".6321"/><stop offset=".3385" stop-color="#818181" stop-opacity=".6088"/><stop offset=".3438" stop-color="#818181" stop-opacity=".5848"/><stop offset=".349" stop-color="#818181" stop-opacity=".5601"/><stop offset=".3542" stop-color="#818181" stop-opacity=".535"/><stop offset=".3594" stop-color="#818181" stop-opacity=".5093"/><stop offset=".3646" stop-color="#818181" stop-opacity=".4832"/><stop offset=".3698" stop-color="#818181" stop-opacity=".4568"/><stop offset=".375" stop-color="#818181" stop-opacity=".4302"/><stop offset=".3802" stop-color="#818181" stop-opacity=".4035"/><stop offset=".3854" stop-color="#818181" stop-opacity=".3767"/><stop offset=".3906" stop-color="#818181" stop-opacity=".3499"/><stop offset=".3958" stop-color="#818181" stop-opacity=".3234"/><stop offset=".401" stop-color="#818181" stop-opacity=".2971"/><stop offset=".4062" stop-color="#818181" stop-opacity=".2712"/><stop offset=".4115" stop-color="#818181" stop-opacity=".2459"/><stop offset=".4167" stop-color="#818181" stop-opacity=".2212"/><stop offset=".4219" stop-color="#818181" stop-opacity=".1973"/><stop offset=".4271" stop-color="#818181" stop-opacity=".1742"/><stop offset=".4323" stop-color="#818181" stop-opacity=".1521"/><stop offset=".4375" stop-color="#818181" stop-opacity=".1312"/><stop offset=".4427" stop-color="#818181" stop-opacity=".1114"/><stop offset=".4479" stop-color="#818181" stop-opacity=".093"/><stop offset=".4531" stop-color="#818181" stop-opacity=".0761"/><stop offset=".4583" stop-color="#818181" stop-opacity=".0606"/><stop offset=".4635" stop-color="#818181" stop-opacity=".0467"/><stop offset=".4688" stop-color="#818181" stop-opacity=".0345"/><stop offset=".474" stop-color="#818181" stop-opacity=".0241"/><stop offset=".4792" stop-color="#818181" stop-opacity=".0155"/><stop offset=".4844" stop-color="#818181" stop-opacity=".0088"/><stop offset=".4896" stop-color="#818181" stop-opacity=".0039"/><stop offset=".4948" stop-color="#818181" stop-opacity=".001"/><stop offset=".5" stop-color="#818181" stop-opacity="0"/><stop offset=".5052" stop-color="#818181" stop-opacity=".001"/><stop offset=".5104" stop-color="#818181" stop-opacity=".0039"/><stop offset=".5156" stop-color="#818181" stop-opacity=".0088"/><stop offset=".5208" stop-color="#818181" stop-opacity=".0155"/><stop offset=".526" stop-color="#818181" stop-opacity=".0241"/><stop offset=".5312" stop-color="#818181" stop-opacity=".0345"/><stop offset=".5365" stop-color="#818181" stop-opacity=".0467"/><stop offset=".5417" stop-color="#818181" stop-opacity=".0606"/><stop offset=".5469" stop-color="#818181" stop-opacity=".0761"/><stop offset=".5521" stop-color="#818181" stop-opacity=".093"/><stop offset=".5573" stop-color="#818181" stop-opacity=".1114"/><stop offset=".5625" stop-color="#818181" stop-opacity=".1312"/><stop offset=".5677" stop-color="#818181" stop-opacity=".1521"/><stop offset=".5729" stop-color="#818181" stop-opacity=".1742"/><stop offset=".5781" stop-color="#818181" stop-opacity=".1973"/><stop offset=".5833" stop-color="#818181" stop-opacity=".2212"/><stop offset=".5885" stop-color="#818181" stop-opacity=".2459"/><stop offset=".5938" stop-color="#818181" stop-opacity=".2712"/><stop offset=".599" stop-color="#818181" stop-opacity=".2971"/><stop offset=".6042" stop-color="#818181" stop-opacity=".3234"/><stop offset=".6094" stop-color="#818181" stop-opacity=".3499"/><stop offset=".6146" stop-color="#818181" stop-opacity=".3767"/><stop offset=".6198" stop-color="#818181" stop-opacity=".4035"/><stop offset=".625" stop-color="#818181" stop-opacity=".4302"/><stop offset=".6302" stop-color="#818181" stop-opacity=".4568"/><stop offset=".6354" stop-color="#818181" stop-opacity=".4832"/><stop offset=".6406" stop-color="#818181" stop-opacity=".5093"/><stop offset=".6458" stop-color="#818181" stop-opacity=".535"/><stop offset=".651" stop-color="#818181" stop-opacity=".5601"/><stop offset=".6562" stop-color="#818181" stop-opacity=".5848"/><stop offset=".6615" stop-color="#818181" stop-opacity=".6088"/><stop offset=".6667" stop-color="#818181" stop-opacity=".6321"/><stop offset=".6719" stop-color="#818181" stop-opacity=".6547"/><stop offset=".6771" stop-color="#818181" stop-opacity=".6766"/><stop offset=".6823" stop-color="#818181" stop-opacity=".6977"/><stop offset=".6875" stop-color="#818181" stop-opacity=".7179"/><stop offset=".6927" stop-color="#818181" stop-opacity=".7373"/><stop offset=".6979" stop-color="#818181" stop-opacity=".7559"/><stop offset=".7031" stop-color="#818181" stop-opacity=".7736"/><stop offset=".7083" stop-color="#818181" stop-opacity=".7904"/><stop offset=".7135" stop-color="#818181" stop-opacity=".8063"/><stop offset=".7188" stop-color="#818181" stop-opacity=".8214"/><stop offset=".724" stop-color="#818181" stop-opacity=".8356"/><stop offset=".7292" stop-color="#818181" stop-opacity=".849"/><stop offset=".7344" stop-color="#818181" stop-opacity=".8616"/><stop offset=".7396" stop-color="#818181" stop-opacity=".8734"/><stop offset=".7448" stop-color="#818181" stop-opacity=".8844"/><stop offset=".75" stop-color="#818181" stop-opacity=".8946"/><stop offset=".7552" stop-color="#818181" stop-opacity=".9041"/><stop offset=".7604" stop-color="#818181" stop-opacity=".913"/><stop offset=".7656" stop-color="#818181" stop-opacity=".9211"/><stop offset=".7708" stop-color="#818181" stop-opacity=".9287"/><stop offset=".776" stop-color="#818181" stop-opacity=".9356"/><stop offset=".7812" stop-color="#818181" stop-opacity=".942"/><stop offset=".7865" stop-color="#818181" stop-opacity=".9479"/><stop offset=".7917" stop-color="#818181" stop-opacity=".9532"/><stop offset=".7969" stop-color="#818181" stop-opacity=".9581"/><stop offset=".8021" stop-color="#818181" stop-opacity=".9626"/><stop offset=".8073" stop-color="#818181" stop-opacity=".9666"/><stop offset=".8125" stop-color="#818181" stop-opacity=".9703"/><stop offset=".8177" stop-color="#818181" stop-opacity=".9736"/><stop offset=".8229" stop-color="#818181" stop-opacity=".9766"/><stop offset=".8281" stop-color="#818181" stop-opacity=".9793"/><stop offset=".8333" stop-color="#818181" stop-opacity=".9817"/><stop offset=".8385" stop-color="#818181" stop-opacity=".9839"/><stop offset=".8438" stop-color="#818181" stop-opacity=".9858"/><stop offset=".849" stop-color="#818181" stop-opacity=".9875"/><stop offset=".8542" stop-color="#818181" stop-opacity=".9891"/><stop offset=".8594" stop-color="#818181" stop-opacity=".9904"/><stop offset=".8646" stop-color="#818181" stop-opacity=".9916"/><stop offset=".8698" stop-color="#818181" stop-opacity=".9927"/><stop offset=".875" stop-color="#818181" stop-opacity=".9937"/><stop offset=".8802" stop-color="#818181" stop-opacity=".9945"/><stop offset=".8854" stop-color="#818181" stop-opacity=".9952"/><stop offset=".8906" stop-color="#818181" stop-opacity=".9959"/><stop offset=".8958" stop-color="#818181" stop-opacity=".9964"/><stop offset=".901" stop-color="#818181" stop-opacity=".9969"/><stop offset=".9062" stop-color="#818181" stop-opacity=".9974"/><stop offset=".9115" stop-color="#818181" stop-opacity=".9977"/><stop offset=".9167" stop-color="#818181" stop-opacity=".9981"/><stop offset=".9219" stop-color="#818181" stop-opacity=".9984"/><stop offset=".9271" stop-color="#818181" stop-opacity=".9986"/><stop offset=".9323" stop-color="#818181" stop-opacity=".9988"/><stop offset=".9375" stop-color="#818181" stop-opacity=".999"/><stop offset=".9427" stop-color="#818181" stop-opacity=".9991"/><stop offset=".9479" stop-color="#818181" stop-opacity=".9993"/><stop offset=".9531" stop-color="#818181" stop-opacity=".9994"/><stop offset=".9583" stop-color="#818181" stop-opacity=".9995"/><stop offset=".9635" stop-color="#818181" stop-opacity=".9996"/><stop offset=".9688" stop-color="#818181" stop-opacity=".9996"/><stop offset=".974" stop-color="#818181" stop-opacity=".9997"/><stop offset=".9792" stop-color="#818181" stop-opacity=".9997"/><stop offset=".9844" stop-color="#818181" stop-opacity=".9998"/><stop offset=".9896" stop-color="#818181" stop-opacity=".9998"/><stop offset=".9948" stop-color="#818181" stop-opacity=".9999"/><stop offset="1" stop-color="#818181" stop-opacity=".9999"/></linearGradient>
<filter id="cm" filterUnits="userSpaceOnUse" x="0" y="0" width="1500" height="1344" color-interpolation-filters="sRGB"><feComponentTransfer><feFuncR type="discrete" tableValues=".2081 .2116 .2123 .2081 .1959 .1707 .1253 .0591 .0117 .006 .0165 .0329 .0498 .0629 .0723 .0779 .0793 .0749 .0641 .0488 .0343 .0265 .0239 .0231 .0228 .0267 .0384 .059 .0843 .1133 .1453 .1801 .2178 .2586 .3022 .3482 .3953 .442 .4871 .53 .5709 .6099 .6473 .6834 .7184 .7525 .7858 .8185 .8507 .8824 .9139 .945 .9739 .9938 .999 .9955 .988 .9789 .9697 .9626 .9589 .9598 .9661 .9763"/><feFuncG type="discrete" tableValues=".1663 .1898 .2138 .2386 .2645 .2919 .3242 .3598 .3875 .4086 .4266 .443 .4586 .4737 .4887 .504 .52 .5375 .557 .5772 .5966 .6137 .6287 .6418 .6535 .6642 .6743 .6838 .6928 .7015 .7098 .7177 .725 .7317 .7376 .7424 .7459 .7481 .7491 .7491 .7485 .7473 .7456 .7435 .7411 .7384 .7356 .7327 .7299 .7274 .7258 .7261 .7314 .7455 .7653 .7861 .8066 .8271 .8481 .8705 .8949 .9218 .9514 .9831"/><feFuncB type="discrete" tableValues=".5292 .5777 .627 .6771 .7279 .7792 .8303 .8683 .882 .8828 .8786 .872 .8641 .8554 .8467 .8384 .8312 .8263 .824 .8228 .8199 .8135 .8038 .7913 .7768 .7607 .7436 .7254 .7062 .6859 .6646 .6424 .6193 .5954 .5712 .5473 .5244 .5033 .484 .4661 .4494 .4337 .4188 .4044 .3905 .3768 .3633 .3498 .336 .3217 .3063 .2886 .2666 .2403 .2164 .1967 .1794 .1633 .1475 .1309 .1132 .0948 .0755 .0538"/></feComponentTransfer><feGaussianBlur stdDeviation="1"/></filter>
<clipPath id="c00"><rect x="92.4" y="45.2" width="352.5" height="327.3"/></clipPath>
<clipPath id="c01"><rect x="551.4" y="45.2" width="352.5" height="327.3"/></clipPath>
<clipPath id="c02"><rect x="1008.7" y="45.2" width="352.5" height="327.3"/></clipPath>
<clipPath id="c10"><rect x="92.4" y="485.4" width="352.5" height="327.3"/></clipPath>
<clipPath id="c11"><rect x="551.4" y="485.4" width="352.5" height="327.3"/></clipPath>
<clipPath id="c12"><rect x="1008.7" y="485.4" width="352.5" height="327.3"/></clipPath>
<clipPath id="c20"><rect x="92.4" y="925" width="352.5" height="327.3"/></clipPath>
<clipPath id="c21"><rect x="551.4" y="925" width="352.5" height="327.3"/></clipPath>
<clipPath id="c22"><rect x="1008.7" y="925" width="352.5" height="327.3"/></clipPath>
<clipPath id="call"><rect x="97.4" y="50.2" width="342.5" height="317.3"/><rect x="556.4" y="50.2" width="342.5" height="317.3"/><rect x="1013.7" y="50.2" width="342.5" height="317.3"/><rect x="97.4" y="490.4" width="342.5" height="317.3"/><rect x="556.4" y="490.4" width="342.5" height="317.3"/><rect x="1013.7" y="490.4" width="342.5" height="317.3"/><rect x="97.4" y="930" width="342.5" height="317.3"/><rect x="556.4" y="930" width="342.5" height="317.3"/><rect x="1013.7" y="930" width="342.5" height="317.3"/></clipPath></defs>
<rect width="1500" height="1344" fill="#fff"/>
<g clip-path="url(#call)"><g filter="url(#cm)">
<g clip-path="url(#c00)"><g transform="translate(268.65 208.85) scale(42.8125 -39.6625) rotate(0)"><rect x="-6" y="-6" width="12" height="12" fill="url(#ga)"/><rect x="-6" y="-6" width="5" height="12" fill="url(#cn)"/><rect x="-1" y="-6" width="7" height="12" fill="url(#cp)"/></g></g>
<g clip-path="url(#c01)"><g transform="translate(727.65 208.85) scale(42.8125 -39.6625) rotate(90)"><rect x="-6" y="-6" width="12" height="12" fill="url(#ga)"/><rect x="-6" y="-6" width="5" height="12" fill="url(#cn)"/><rect x="-1" y="-6" width="7" height="12" fill="url(#cp)"/></g></g>
<g clip-path="url(#c02)"><g transform="translate(1184.95 208.85) scale(42.8125 -39.6625) rotate(45)"><rect x="-6" y="-6" width="12" height="12" fill="url(#gb)"/><rect x="-6" y="-6" width="6" height="12" fill="url(#cn)"/><rect x="0" y="-6" width="6" height="12" fill="url(#cp)"/></g></g>
<g clip-path="url(#c10)"><g transform="translate(268.65 649.05) scale(42.8125 -39.6625) rotate(180)"><rect x="-6" y="-6" width="12" height="12" fill="url(#ga)"/><rect x="-6" y="-6" width="5" height="12" fill="url(#cn)"/><rect x="-1" y="-6" width="7" height="12" fill="url(#cp)"/></g></g>
<g clip-path="url(#c11)"><g transform="translate(727.65 649.05) scale(42.8125 -39.6625) rotate(-90)"><rect x="-6" y="-6" width="12" height="12" fill="url(#ga)"/><rect x="-6" y="-6" width="5" height="12" fill="url(#cn)"/><rect x="-1" y="-6" width="7" height="12" fill="url(#cp)"/></g></g>
<g clip-path="url(#c12)"><g transform="translate(1184.95 649.05) scale(42.8125 -39.6625) rotate(-45)"><rect x="-6" y="-6" width="12" height="12" fill="url(#gb)"/><rect x="-6" y="-6" width="6" height="12" fill="url(#cn)"/><rect x="0" y="-6" width="6" height="12" fill="url(#cp)"/></g></g>
<g clip-path="url(#c20)"><g transform="translate(268.65 1088.65) scale(42.8125 -39.6625) rotate(90)"><rect x="-6" y="-6" width="12" height="12" fill="url(#gb)"/><rect x="-6" y="-6" width="6" height="12" fill="url(#cn)"/><rect x="0" y="-6" width="6" height="12" fill="url(#cp)"/></g></g>
<g clip-path="url(#c21)"><g transform="translate(727.65 1088.65) scale(42.8125 -39.6625) rotate(0)"><rect x="-6" y="-6" width="12" height="12" fill="url(#gb)"/><rect x="-6" y="-6" width="6" height="12" fill="url(#cn)"/><rect x="0" y="-6" width="6" height="12" fill="url(#cp)"/></g></g>
<g clip-path="url(#c22)"><g transform="translate(1184.95 1088.65) scale(42.8125 -39.6625) rotate(0)"><rect x="-6" y="-6" width="12" height="12" fill="url(#gc)"/><rect x="-6" y="-6" width="12" height="12" fill="url(#cp)"/></g></g>
</g></g>
<g fill="none" stroke="#262626" stroke-width="0.9"><path d="M97.4 49.7V367.5H440.4M96.9 50.2h4.8M439.9 368v-4.8"/><path d="M556.4 49.7V367.5H899.4M555.9 50.2h4.8M898.9 368v-4.8"/><path d="M1013.7 49.7V367.5H1356.7M1013.2 50.2h4.8M1356.2 368v-4.8"/><path d="M97.4 489.9V807.7H440.4M96.9 490.4h4.8M439.9 808.2v-4.8"/><path d="M556.4 489.9V807.7H899.4M555.9 490.4h4.8M898.9 808.2v-4.8"/><path d="M1013.7 489.9V807.7H1356.7M1013.2 490.4h4.8M1356.2 808.2v-4.8"/><path d="M97.4 929.5V1247.3H440.4M96.9 930h4.8M439.9 1247.8v-4.8"/><path d="M556.4 929.5V1247.3H899.4M555.9 930h4.8M898.9 1247.8v-4.8"/><path d="M1013.7 929.5V1247.3H1356.7M1013.2 930h4.8M1356.2 1247.8v-4.8"/></g>
<g shape-rendering="crispEdges"><rect x="1381.5" y="930.3" width="34.7" height="5.55" fill="#f9fb0e"/><rect x="1381.5" y="935.25" width="34.7" height="5.55" fill="#f6f313"/><rect x="1381.5" y="940.2" width="34.7" height="5.55" fill="#f5eb18"/><rect x="1381.5" y="945.15" width="34.7" height="5.55" fill="#f5e41d"/><rect x="1381.5" y="950.09" width="34.7" height="5.55" fill="#f5de21"/><rect x="1381.5" y="955.04" width="34.7" height="5.55" fill="#f7d826"/><rect x="1381.5" y="959.99" width="34.7" height="5.55" fill="#fad32a"/><rect x="1381.5" y="964.94" width="34.7" height="5.55" fill="#fcce2e"/><rect x="1381.5" y="969.89" width="34.7" height="5.55" fill="#fec832"/><rect x="1381.5" y="974.84" width="34.7" height="5.55" fill="#ffc337"/><rect x="1381.5" y="979.78" width="34.7" height="5.55" fill="#fdbe3d"/><rect x="1381.5" y="984.73" width="34.7" height="5.55" fill="#f8bb44"/><rect x="1381.5" y="989.68" width="34.7" height="5.55" fill="#f1b94a"/><rect x="1381.5" y="994.63" width="34.7" height="5.55" fill="#e9b94e"/><rect x="1381.5" y="999.58" width="34.7" height="5.55" fill="#e1b952"/><rect x="1381.5" y="1004.53" width="34.7" height="5.55" fill="#d9ba56"/><rect x="1381.5" y="1009.47" width="34.7" height="5.55" fill="#d1bb59"/><rect x="1381.5" y="1014.42" width="34.7" height="5.55" fill="#c8bc5d"/><rect x="1381.5" y="1019.37" width="34.7" height="5.55" fill="#c0bc60"/><rect x="1381.5" y="1024.32" width="34.7" height="5.55" fill="#b7bd64"/><rect x="1381.5" y="1029.27" width="34.7" height="5.55" fill="#aebe67"/><rect x="1381.5" y="1034.22" width="34.7" height="5.55" fill="#a5be6b"/><rect x="1381.5" y="1039.17" width="34.7" height="5.55" fill="#9cbf6f"/><rect x="1381.5" y="1044.11" width="34.7" height="5.55" fill="#92bf73"/><rect x="1381.5" y="1049.06" width="34.7" height="5.55" fill="#87bf77"/><rect x="1381.5" y="1054.01" width="34.7" height="5.55" fill="#7cbf7b"/><rect x="1381.5" y="1058.96" width="34.7" height="5.55" fill="#71bf80"/><rect x="1381.5" y="1063.91" width="34.7" height="5.55" fill="#65be86"/><rect x="1381.5" y="1068.86" width="34.7" height="5.55" fill="#59bd8c"/><rect x="1381.5" y="1073.8" width="34.7" height="5.55" fill="#4dbc92"/><rect x="1381.5" y="1078.75" width="34.7" height="5.55" fill="#42bb98"/><rect x="1381.5" y="1083.7" width="34.7" height="5.55" fill="#38b99e"/><rect x="1381.5" y="1088.65" width="34.7" height="5.55" fill="#2eb7a4"/><rect x="1381.5" y="1093.6" width="34.7" height="5.55" fill="#25b5a9"/><rect x="1381.5" y="1098.55" width="34.7" height="5.55" fill="#1db3af"/><rect x="1381.5" y="1103.5" width="34.7" height="5.55" fill="#15b1b4"/><rect x="1381.5" y="1108.44" width="34.7" height="5.55" fill="#0faeb9"/><rect x="1381.5" y="1113.39" width="34.7" height="5.55" fill="#0aacbe"/><rect x="1381.5" y="1118.34" width="34.7" height="5.55" fill="#07a9c2"/><rect x="1381.5" y="1123.29" width="34.7" height="5.55" fill="#06a7c6"/><rect x="1381.5" y="1128.24" width="34.7" height="5.55" fill="#06a4ca"/><rect x="1381.5" y="1133.19" width="34.7" height="5.55" fill="#06a0cd"/><rect x="1381.5" y="1138.13" width="34.7" height="5.55" fill="#079ccf"/><rect x="1381.5" y="1143.08" width="34.7" height="5.55" fill="#0998d1"/><rect x="1381.5" y="1148.03" width="34.7" height="5.55" fill="#0c93d2"/><rect x="1381.5" y="1152.98" width="34.7" height="5.55" fill="#108ed2"/><rect x="1381.5" y="1157.93" width="34.7" height="5.55" fill="#1389d3"/><rect x="1381.5" y="1162.88" width="34.7" height="5.55" fill="#1485d4"/><rect x="1381.5" y="1167.83" width="34.7" height="5.55" fill="#1481d6"/><rect x="1381.5" y="1172.77" width="34.7" height="5.55" fill="#127dd8"/><rect x="1381.5" y="1177.72" width="34.7" height="5.55" fill="#1079da"/><rect x="1381.5" y="1182.67" width="34.7" height="5.55" fill="#0d75dc"/><rect x="1381.5" y="1187.62" width="34.7" height="5.55" fill="#0871de"/><rect x="1381.5" y="1192.57" width="34.7" height="5.55" fill="#046de0"/><rect x="1381.5" y="1197.52" width="34.7" height="5.55" fill="#0268e1"/><rect x="1381.5" y="1202.46" width="34.7" height="5.55" fill="#0363e1"/><rect x="1381.5" y="1207.41" width="34.7" height="5.55" fill="#0f5cdd"/><rect x="1381.5" y="1212.36" width="34.7" height="5.55" fill="#2053d4"/><rect x="1381.5" y="1217.31" width="34.7" height="5.55" fill="#2c4ac7"/><rect x="1381.5" y="1222.26" width="34.7" height="5.55" fill="#3243ba"/><rect x="1381.5" y="1227.21" width="34.7" height="5.55" fill="#353dad"/><rect x="1381.5" y="1232.15" width="34.7" height="5.55" fill="#3637a0"/><rect x="1381.5" y="1237.1" width="34.7" height="5.55" fill="#363093"/><rect x="1381.5" y="1242.05" width="34.7" height="5.55" fill="#352a87"/></g>
<rect x="1381.5" y="930.3" width="34.7" height="316.7" fill="none" stroke="#333" stroke-width="1.6"/>
<path d="M1416.2 944.5h-4M1416.2 1016.57h-4M1416.2 1088.65h-4M1416.2 1160.73h-4M1416.2 1232.8h-4" fill="none" stroke="#333" stroke-width="1.5"/>
<g font-family="'DejaVu Sans','Liberation Sans',sans-serif" font-size="35" fill="#262626"><text x="1426.6" y="958.8" letter-spacing="0.5">0.4</text><text x="1426.6" y="1030.87" letter-spacing="0.5">0.2</text><text x="1426.6" y="1102.95" letter-spacing="0.5">0</text><text x="1427.4" y="1175.03" letter-spacing="1.2">-0.2</text><text x="1427.4" y="1247.1" letter-spacing="1.2">-0.4</text></g>
<g font-family="'Liberation Serif','DejaVu Serif',serif" font-size="39.3" fill="#262626"><text x="86" y="59.8" text-anchor="end">4</text><text x="86" y="139.12" text-anchor="end">2</text><text x="86" y="218.45" text-anchor="end">0</text><text x="86" y="297.78" text-anchor="end">-2</text><text x="86" y="377.1" text-anchor="end">-4</text><text x="97.7" y="410.9" text-anchor="middle">-4</text><text x="268.95" y="410.9" text-anchor="middle">0</text><text x="440.2" y="410.9" text-anchor="middle">4</text><text x="545" y="59.8" text-anchor="end">4</text><text x="545" y="139.12" text-anchor="end">2</text><text x="545" y="218.45" text-anchor="end">0</text><text x="545" y="297.78" text-anchor="end">-2</text><text x="545" y="377.1" text-anchor="end">-4</text><text x="556.7" y="410.9" text-anchor="middle">-4</text><text x="727.95" y="410.9" text-anchor="middle">0</text><text x="899.2" y="410.9" text-anchor="middle">4</text><text x="1002.3" y="59.8" text-anchor="end">4</text><text x="1002.3" y="139.12" text-anchor="end">2</text><text x="1002.3" y="218.45" text-anchor="end">0</text><text x="1002.3" y="297.78" text-anchor="end">-2</text><text x="1002.3" y="377.1" text-anchor="end">-4</text><text x="1014" y="410.9" text-anchor="middle">-4</text><text x="1185.25" y="410.9" text-anchor="middle">0</text><text x="1356.5" y="410.9" text-anchor="middle">4</text><text x="86" y="500" text-anchor="end">4</text><text x="86" y="579.33" text-anchor="end">2</text><text x="86" y="658.65" text-anchor="end">0</text><text x="86" y="737.98" text-anchor="end">-2</text><text x="86" y="817.3" text-anchor="end">-4</text><text x="97.7" y="851.1" text-anchor="middle">-4</text><text x="268.95" y="851.1" text-anchor="middle">0</text><text x="440.2" y="851.1" text-anchor="middle">4</text><text x="545" y="500" text-anchor="end">4</text><text x="545" y="579.33" text-anchor="end">2</text><text x="545" y="658.65" text-anchor="end">0</text><text x="545" y="737.98" text-anchor="end">-2</text><text x="545" y="817.3" text-anchor="end">-4</text><text x="556.7" y="851.1" text-anchor="middle">-4</text><text x="727.95" y="851.1" text-anchor="middle">0</text><text x="899.2" y="851.1" text-anchor="middle">4</text><text x="1002.3" y="500" text-anchor="end">4</text><text x="1002.3" y="579.33" text-anchor="end">2</text><text x="1002.3" y="658.65" text-anchor="end">0</text><text x="1002.3" y="737.98" text-anchor="end">-2</text><text x="1002.3" y="817.3" text-anchor="end">-4</text><text x="1014" y="851.1" text-anchor="middle">-4</text><text x="1185.25" y="851.1" text-anchor="middle">0</text><text x="1356.5" y="851.1" text-anchor="middle">4</text><text x="86" y="939.6" text-anchor="end">4</text><text x="86" y="1018.93" text-anchor="end">2</text><text x="86" y="1098.25" text-anchor="end">0</text><text x="86" y="1177.57" text-anchor="end">-2</text><text x="86" y="1256.9" text-anchor="end">-4</text><text x="97.7" y="1290.7" text-anchor="middle">-4</text><text x="268.95" y="1290.7" text-anchor="middle">0</text><text x="440.2" y="1290.7" text-anchor="middle">4</text><text x="545" y="939.6" text-anchor="end">4</text><text x="545" y="1018.93" text-anchor="end">2</text><text x="545" y="1098.25" text-anchor="end">0</text><text x="545" y="1177.57" text-anchor="end">-2</text><text x="545" y="1256.9" text-anchor="end">-4</text><text x="556.7" y="1290.7" text-anchor="middle">-4</text><text x="727.95" y="1290.7" text-anchor="middle">0</text><text x="899.2" y="1290.7" text-anchor="middle">4</text><text x="1002.3" y="939.6" text-anchor="end">4</text><text x="1002.3" y="1018.93" text-anchor="end">2</text><text x="1002.3" y="1098.25" text-anchor="end">0</text><text x="1002.3" y="1177.57" text-anchor="end">-2</text><text x="1002.3" y="1256.9" text-anchor="end">-4</text><text x="1014" y="1290.7" text-anchor="middle">-4</text><text x="1185.25" y="1290.7" text-anchor="middle">0</text><text x="1356.5" y="1290.7" text-anchor="middle">4</text></g>
<g font-family="'Liberation Serif','DejaVu Serif',serif" font-size="44" fill="#000"><text x="267.95" y="30.9" text-anchor="middle">iTEM1</text><text x="726.95" y="30.9" text-anchor="middle">iTEM2</text><text x="1184.25" y="30.9" text-anchor="middle">iTEM3</text></g>
<g font-family="'Liberation Serif','DejaVu Serif',serif" font-style="italic" font-size="44" fill="#262626"><text x="1185.6" y="1341" text-anchor="middle">x</text><text transform="translate(950.8 1088.4) rotate(-90) translate(-6.85 0) scale(0.928 1)" font-size="40.9">y</text></g>
<style>.dj{font-family:"DejaVu Sans","DejaVu Serif",sans-serif}.ls{font-family:"Liberation Serif","DejaVu Serif",serif}.lb{font-family:"Liberation Serif","DejaVu Serif",serif;font-weight:bold}</style><g fill="#262626"><g transform="translate(36.3 209) rotate(-90)"><text class="dj" transform="translate(-47.58 4.13) scale(0.912 1)" font-size="47.14" stroke="#fff" stroke-width="1.3">⟨</text><text class="lb" transform="translate(-32.22 0.3) scale(1.02 1)" font-size="40.72">r</text><text class="ls" transform="translate(-10.8 0.17) scale(0.928 1)" font-size="45.27" stroke="#fff" stroke-width="0.5">|</text><text class="ls" transform="translate(-2.03 10.09) scale(1.002 1)" font-size="60.52" stroke="#fff" stroke-width="1.2">+</text><text class="dj" transform="translate(30.03 4.13) scale(0.96 1)" font-size="47.14" stroke="#fff" stroke-width="1.3">⟩</text></g><g transform="translate(39.2 649.05) rotate(-90)"><text class="dj" transform="translate(-47.58 4.13) scale(0.912 1)" font-size="47.14" stroke="#fff" stroke-width="1.3">⟨</text><text class="lb" transform="translate(-32.22 0.3) scale(1.02 1)" font-size="40.72">r</text><text class="ls" transform="translate(-10.8 0.17) scale(0.928 1)" font-size="45.27" stroke="#fff" stroke-width="0.5">|</text><text class="ls" transform="translate(-1.12 8.09) scale(1.045 1)" font-size="56" stroke="#fff" stroke-width="1.2">−</text><text class="dj" transform="translate(30.03 4.13) scale(0.96 1)" font-size="47.14" stroke="#fff" stroke-width="1.3">⟩</text></g><g transform="translate(34.2 1088.05) rotate(-90)"><text class="dj" transform="translate(-43.83 4.93) scale(0.912 1)" font-size="47.14" stroke="#fff" stroke-width="1.3">⟨</text><text class="lb" transform="translate(-28.14 0.3) scale(0.989 1)" font-size="40.72">r</text><text class="ls" transform="translate(-7.15 0.97) scale(0.928 1)" font-size="45.27" stroke="#fff" stroke-width="0.5">|</text><text class="lb" transform="translate(2.64 -0.45) scale(1.124 1)" font-size="39.19">q</text><text class="dj" transform="translate(27.06 4.93) scale(0.912 1)" font-size="47.14" stroke="#fff" stroke-width="1.3">⟩</text></g></g>
</svg></body></html>
